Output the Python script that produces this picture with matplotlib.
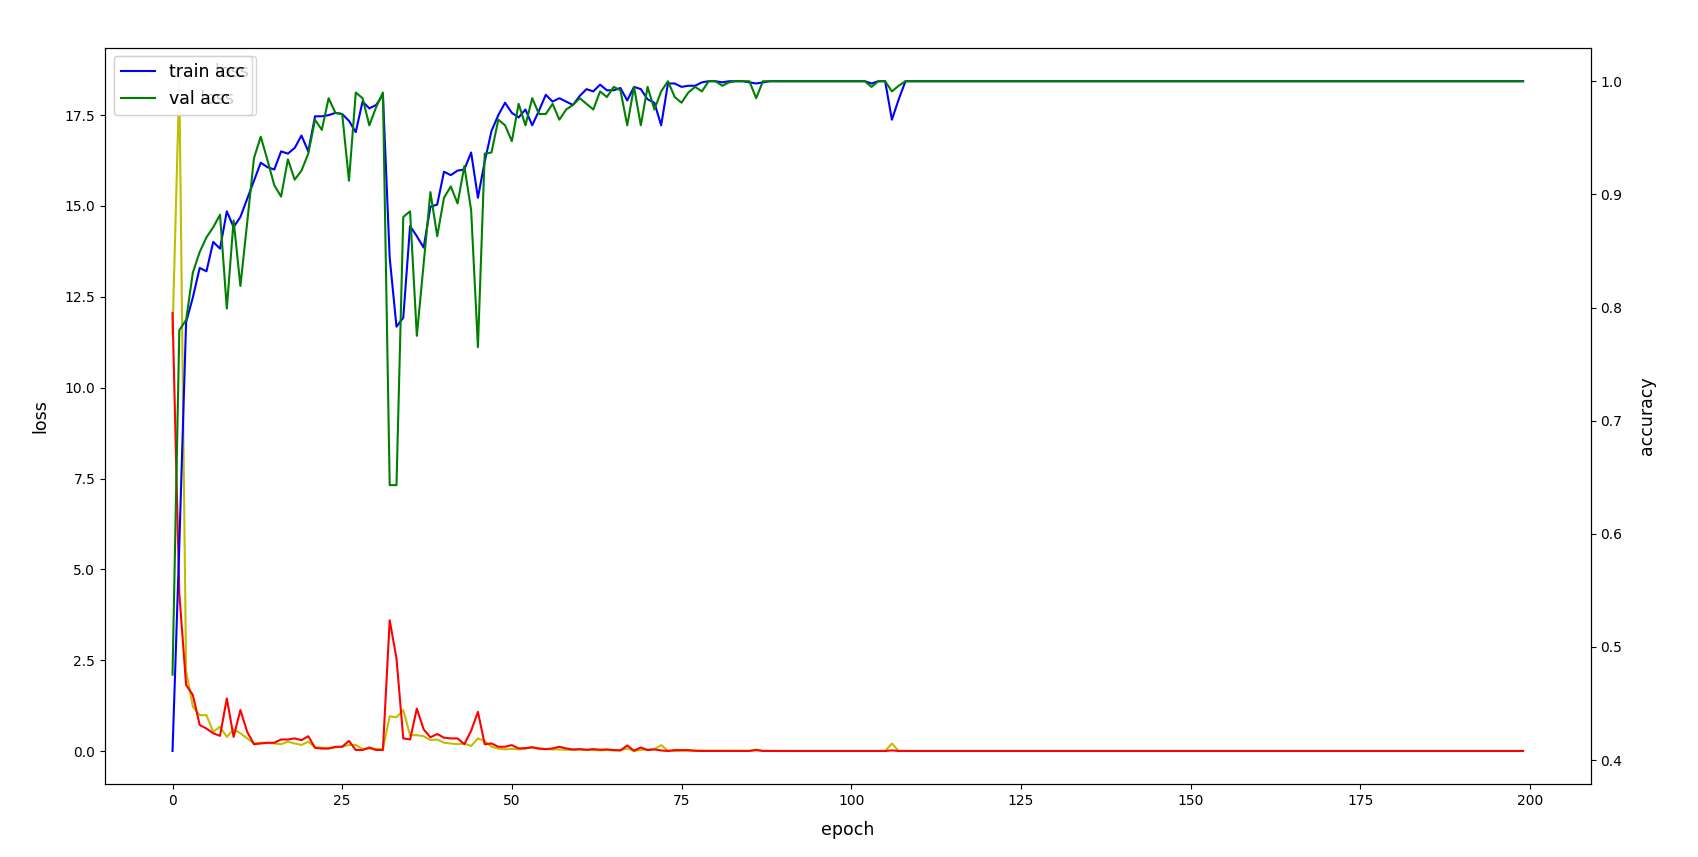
import matplotlib
matplotlib.use("Agg")
import matplotlib.pyplot as plt

# per-epoch values (epochs 0..87 vary, after that the runs are flat)
train_loss = [11.5, 18.43, 2.2, 1.22, 0.99, 0.99, 0.53, 0.67, 0.39, 0.60,
              0.49, 0.35, 0.21, 0.23, 0.23, 0.21, 0.19, 0.26, 0.21, 0.17,
              0.26, 0.10, 0.10, 0.08, 0.10, 0.12, 0.17, 0.17, 0.06, 0.07,
              0.06, 0.06, 0.96, 0.93, 1.13, 0.44, 0.44, 0.41, 0.30, 0.32,
              0.23, 0.21, 0.19, 0.21, 0.14, 0.35, 0.28, 0.12, 0.07, 0.05,
              0.06, 0.05, 0.064, 0.12, 0.055, 0.055, 0.046, 0.046, 0.037, 0.03,
              0.04, 0.03, 0.03, 0.02, 0.03, 0.02, 0.03, 0.073, 0.004, 0.03,
              0.046, 0.055, 0.165, 0.01, 0.005, 0.01, 0.01, 0.01, 0.01, 0.008,
              0.008, 0.008, 0.006, 0.006, 0.006, 0.006, 0.046, 0.005] \
             + [0.003] * 18 + [0.21] + [0.003] * 93
val_loss = [12.05, 4.34, 1.82, 1.54, 0.72, 0.62, 0.49, 0.42, 1.45, 0.39,
            1.13, 0.53, 0.19, 0.21, 0.23, 0.23, 0.32, 0.32, 0.35, 0.30,
            0.41, 0.09, 0.07, 0.07, 0.12, 0.12, 0.28, 0.03, 0.03, 0.10,
            0.03, 0.03, 3.60, 2.55, 0.35, 0.32, 1.17, 0.60, 0.38, 0.47,
            0.37, 0.35, 0.35, 0.19, 0.56, 1.08, 0.19, 0.21, 0.12, 0.12,
            0.165, 0.073, 0.083, 0.10, 0.073, 0.055, 0.073, 0.12, 0.073, 0.046,
            0.055, 0.037, 0.055, 0.037, 0.046, 0.028, 0.018, 0.156, 0.01, 0.10,
            0.028, 0.046, 0.018, 0.004, 0.028, 0.028, 0.028, 0.01, 0.005, 0.005,
            0.005, 0.005, 0.005, 0.005, 0.005, 0.005, 0.028, 0.005] \
           + [0.004] * 18 + [0.02] + [0.004] * 93
train_acc = [0.408, 0.59, 0.787, 0.809, 0.835, 0.832, 0.858, 0.852, 0.885, 0.871,
             0.880, 0.896, 0.912, 0.928, 0.924, 0.922, 0.938, 0.936, 0.941, 0.952,
             0.938, 0.969, 0.969, 0.970, 0.972, 0.971, 0.965, 0.955, 0.982, 0.976,
             0.979, 0.988, 0.844, 0.783, 0.791, 0.872, 0.863, 0.853, 0.889, 0.891,
             0.920, 0.917, 0.921, 0.922, 0.937, 0.897, 0.929, 0.956, 0.970, 0.981,
             0.972, 0.968, 0.975, 0.961, 0.974, 0.988, 0.982, 0.985, 0.982, 0.979,
             0.987, 0.993, 0.991, 0.997, 0.992, 0.992, 0.994, 0.983, 0.995, 0.993,
             0.984, 0.981, 0.961, 0.998, 0.998, 0.995, 0.996, 0.996, 0.999, 1.0,
             1.0, 0.999, 1.0, 1.0, 1.0, 0.999, 0.998, 0.999] \
            + [1.0] * 15 + [0.998, 1.0, 1.0, 0.966, 0.984] + [1.0] * 92
val_acc = [0.4755, 0.780, 0.789, 0.831, 0.849, 0.862, 0.871, 0.882, 0.799, 0.877,
           0.819, 0.875, 0.932, 0.951, 0.930, 0.908, 0.898, 0.931, 0.913, 0.921,
           0.936, 0.966, 0.957, 0.985, 0.972, 0.971, 0.912, 0.990, 0.985, 0.961,
           0.977, 0.990, 0.643, 0.643, 0.880, 0.885, 0.775, 0.839, 0.902, 0.863,
           0.897, 0.907, 0.892, 0.925, 0.886, 0.765, 0.936, 0.937, 0.966, 0.961,
           0.947, 0.980, 0.961, 0.985, 0.971, 0.971, 0.980, 0.966, 0.975, 0.979,
           0.985, 0.980, 0.975, 0.991, 0.986, 0.995, 0.992, 0.961, 0.995, 0.961,
           0.995, 0.975, 0.991, 1.0, 0.986, 0.981, 0.990, 0.995, 0.991, 1.0,
           1.0, 0.996, 0.999, 1.0, 1.0, 1.0, 0.985, 1.0] \
          + [1.0] * 15 + [0.995, 1.0, 1.0, 0.991, 0.996] + [1.0] * 92
epochs = list(range(len(train_acc)))

fig, ax = plt.subplots(figsize=(16.99, 8.57), dpi=100)
fig.subplots_adjust(left=0.0618, right=0.9362, top=0.9443, bottom=0.0846)

ax.plot(epochs, train_loss, "y", label="train loss")
ax.plot(epochs, val_loss, "r", label="val loss")
ax.set_xlabel("epoch", fontsize=12.5, labelpad=9)
ax.set_ylabel("loss", fontsize=12.5, labelpad=11)
ax.legend(loc="upper left", fontsize=12.5)

ax2 = ax.twinx()
ax2.plot(epochs, train_acc, "b", label="train acc")
ax2.plot(epochs, val_acc, "g", label="val acc")
ax2.set_ylabel("accuracy", fontsize=12.5, labelpad=11)
ax2.legend(loc="upper left", fontsize=12.5)

plt.savefig("out.png", dpi=100)
